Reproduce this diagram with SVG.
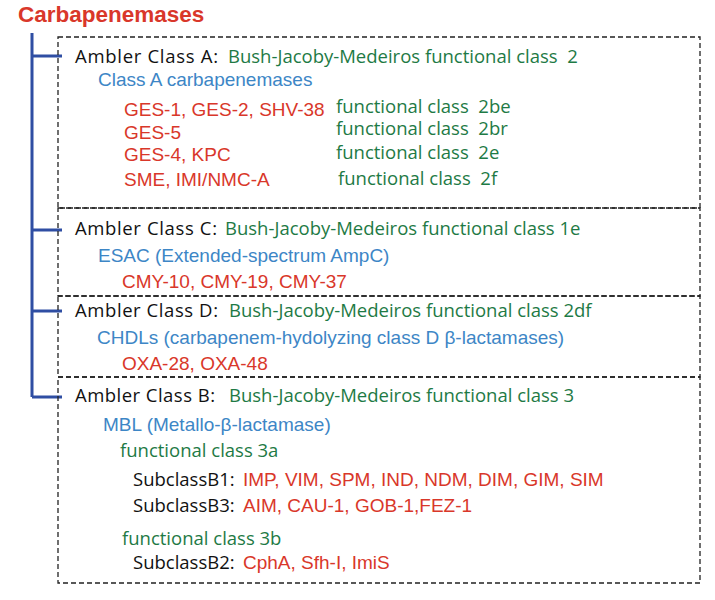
<svg xmlns="http://www.w3.org/2000/svg" width="715" height="600" viewBox="0 0 715 600">
<style>
.t{font-family:"Liberation Sans",Arial,sans-serif;font-size:22.5px;font-weight:bold;fill:#d9372a}
.k{font-family:"Open Sans","Noto Sans",sans-serif;font-size:18.5px;fill:#111}
.g{font-family:"Open Sans","Noto Sans",sans-serif;font-size:18.5px;fill:#1e7a45}
.b{font-family:"Liberation Sans",Arial,sans-serif;font-size:19px;fill:#3d86c6}
.r{font-family:"Liberation Sans",Arial,sans-serif;font-size:19px;fill:#d9372a}
.box{fill:none;stroke:#222;stroke-width:1.3;stroke-dasharray:5 3}
.br{fill:none;stroke:#2f4ea3;stroke-width:3}
</style>
<rect width="715" height="600" fill="#fff"/>
<text class="t" x="18" y="22">Carbapenemases</text>
<g id="connectors">
<path class="br" d="M32 33V397M32 56H62M32 230H62M32 311H62M32 397H62"/>
</g>
<g id="classA">
<path class="box" d="M58 37H700V208H58Z"/>
<text class="k" x="75" y="63" textLength="143">Ambler Class A:</text>
<text class="g" x="228" y="63" xml:space="preserve">Bush-Jacoby-Medeiros functional class  2</text>
<text class="b" x="98" y="86">Class A carbapenemases</text>
<text class="r" x="124" y="116">GES-1, GES-2, SHV-38</text>
<text class="r" x="124" y="139">GES-5</text>
<text class="r" x="124" y="161">GES-4, KPC</text>
<text class="r" x="124" y="186">SME, IMI/NMC-A</text>
<text class="g" x="336" y="113" xml:space="preserve">functional class  2be</text>
<text class="g" x="336" y="135" xml:space="preserve">functional class  2br</text>
<text class="g" x="336" y="159" xml:space="preserve">functional class  2e</text>
<text class="g" x="338" y="185" xml:space="preserve">functional class  2f</text>
</g>
<g id="classC">
<path class="box" d="M58 208H700V296H58Z"/>
<text class="k" x="75" y="235" textLength="142">Ambler Class C:</text>
<text class="g" x="225" y="235">Bush-Jacoby-Medeiros functional class 1e</text>
<text class="b" x="98" y="262">ESAC (Extended-spectrum AmpC)</text>
<text class="r" x="122" y="288">CMY-10, CMY-19, CMY-37</text>
</g>
<g id="classD">
<path class="box" d="M58 296H700V377H58Z"/>
<text class="k" x="75" y="317" textLength="143">Ambler Class D:</text>
<text class="g" x="229" y="317">Bush-Jacoby-Medeiros functional class 2df</text>
<text class="b" x="97" y="344">CHDLs (carbapenem-hydolyzing class D β-lactamases)</text>
<text class="r" x="122" y="370">OXA-28, OXA-48</text>
</g>
<g id="classB">
<path class="box" d="M58 377H700V583H58Z"/>
<text class="k" x="75" y="402" textLength="140">Ambler Class B:</text>
<text class="g" x="229" y="402">Bush-Jacoby-Medeiros functional class 3</text>
<text class="b" x="103" y="431">MBL (Metallo-β-lactamase)</text>
<text class="g" x="120" y="457">functional class 3a</text>
<text class="k" x="133" y="486">SubclassB1:</text>
<text class="r" x="243" y="486">IMP, VIM, SPM, IND, NDM, DIM, GIM, SIM</text>
<text class="k" x="133" y="512">SubclassB3:</text>
<text class="r" x="243" y="512">AIM, CAU-1, GOB-1,FEZ-1</text>
<text class="g" x="122" y="545">functional class 3b</text>
<text class="k" x="133" y="569">SubclassB2:</text>
<text class="r" x="243" y="569">CphA, Sfh-I, ImiS</text>
</g>
</svg>
